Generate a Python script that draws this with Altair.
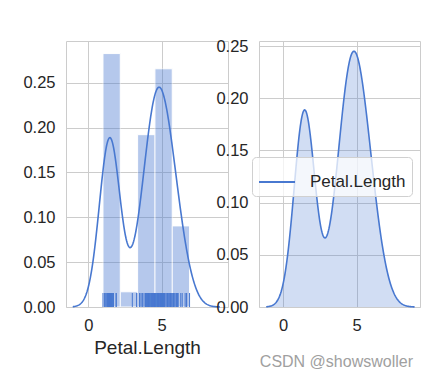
import altair as alt
import numpy as np
import pandas as pd

# ---- data: iris Petal.Length ----
setosa = [1.4, 1.4, 1.3, 1.5, 1.4, 1.7, 1.4, 1.5, 1.4, 1.5, 1.5, 1.6, 1.4, 1.1, 1.2, 1.5, 1.3, 1.4, 1.7, 1.5,
          1.7, 1.5, 1.0, 1.7, 1.9, 1.6, 1.6, 1.5, 1.4, 1.6, 1.6, 1.5, 1.5, 1.4, 1.5, 1.2, 1.3, 1.4, 1.3, 1.5,
          1.3, 1.3, 1.3, 1.6, 1.9, 1.4, 1.6, 1.4, 1.5, 1.4]
versicolor = [4.7, 4.5, 4.9, 4.0, 4.6, 4.5, 4.7, 3.3, 4.6, 3.9, 3.5, 4.2, 4.0, 4.7, 3.6, 4.4, 4.5, 4.1, 4.5, 3.9,
              4.8, 4.0, 4.9, 4.7, 4.3, 4.4, 4.8, 5.0, 4.5, 3.5, 3.8, 3.7, 3.9, 5.1, 4.5, 4.5, 4.7, 4.4, 4.1, 4.0,
              4.4, 4.6, 4.0, 3.3, 4.2, 4.2, 4.2, 4.3, 3.0, 4.1]
virginica = [6.0, 5.1, 5.9, 5.6, 5.8, 6.6, 4.5, 6.3, 5.8, 6.1, 5.1, 5.3, 5.5, 5.0, 5.1, 5.3, 5.5, 6.7, 6.9, 5.0,
             5.7, 4.9, 6.7, 4.9, 5.7, 6.0, 4.8, 4.9, 5.6, 5.8, 6.1, 6.4, 5.6, 5.1, 5.6, 6.1, 5.6, 5.5, 4.8, 5.4,
             5.6, 5.1, 5.1, 5.9, 5.7, 5.2, 5.0, 5.2, 5.4, 5.1]
petal_length = setosa + versicolor + virginica

x_ticks = [0, 5]
y_ticks = [0.0, 0.05, 0.10, 0.15, 0.20, 0.25]
series_name = "Petal.Length"
watermark = "CSDN @showswoller"
n_bins = 5

# ---- derived tables ----
arr = np.array(petal_length)
counts, edges = np.histogram(arr, bins=n_bins)
bw_width = edges[1] - edges[0]
hist_df = pd.DataFrame({
    "start": edges[:-1],
    "end": edges[1:],
    "density": counts / (len(arr) * bw_width),
})
raw_df = pd.DataFrame({"petal_length": petal_length})

q1, q3 = np.percentile(arr, [25, 75])
A = min(arr.std(ddof=1), (q3 - q1) / 1.349)
kde_bw = float(1.059 * A * len(arr) ** (-0.2))

BLUE = "#4878d0"
FONT = "Liberation Sans"
TXT = "#262626"
W, H = 162, 266
SPACING = 31

# ---- left panel: distplot (hist + kde + rug) ----
xs_left = alt.Scale(domain=[-1.52, 9.52], nice=False, zero=False)
ys_left = alt.Scale(domain=[0, 0.2965], nice=False)

x_axis_left = alt.Axis(values=x_ticks, format="d", title="Petal.Length", grid=True,
                       ticks=False, domain=False, labelPadding=10, titlePadding=5)
y_axis = alt.Axis(values=y_ticks, format=".2f", title=None, grid=True,
                  ticks=False, domain=False, labelPadding=11)

bars = alt.Chart(hist_df).mark_bar(color=BLUE, opacity=0.4, stroke="white", strokeWidth=1).encode(
    x=alt.X("start:Q", scale=xs_left, axis=x_axis_left),
    x2="end:Q",
    y=alt.Y("density:Q", scale=ys_left, axis=y_axis),
    y2=alt.datum(0),
)

rug = alt.Chart(raw_df).mark_rule(color=BLUE, strokeWidth=1).encode(
    x=alt.X("petal_length:Q", scale=xs_left),
    y=alt.value(H),
    y2=alt.value(H - 14),
)

kde_left = alt.Chart(raw_df).transform_density(
    "petal_length", as_=["value", "density"], bandwidth=kde_bw,
    extent=[-1.06, 8.96], steps=300
).mark_line(color=BLUE, strokeWidth=1.6).encode(
    x=alt.X("value:Q", scale=xs_left),
    y=alt.Y("density:Q", scale=ys_left),
)

left = alt.layer(bars, rug, kde_left).properties(width=W, height=H)

# ---- right panel: kdeplot shaded with legend ----
W2 = 161
xs_right = alt.Scale(domain=[-1.64, 9.32], nice=False, zero=False)
ys_right = alt.Scale(domain=[0, 0.2548], nice=False)
x_axis_right = alt.Axis(values=x_ticks, format="d", title=None, grid=True,
                        ticks=False, domain=False, labelPadding=10)

dens_right = alt.Chart(raw_df).transform_density(
    "petal_length", as_=["value", "density"], bandwidth=kde_bw,
    extent=[-1.15, 8.95], steps=300
).transform_calculate(series=f"'{series_name}'")

area = dens_right.mark_area(color=BLUE, opacity=0.25).encode(
    x=alt.X("value:Q", scale=xs_right, axis=x_axis_right),
    y=alt.Y("density:Q", scale=ys_right, axis=y_axis),
)

line = dens_right.mark_line(strokeWidth=1.6).encode(
    x=alt.X("value:Q", scale=xs_right),
    y=alt.Y("density:Q", scale=ys_right),
    color=alt.Color("series:N", scale=alt.Scale(range=[BLUE]), legend=alt.Legend(
        orient="none", legendX=W + SPACING - 7, legendY=116, title=None,
        symbolType="stroke", symbolSize=1296, symbolStrokeWidth=2,
        labelFont=FONT, labelFontSize=17, labelColor=TXT, labelOffset=14,
        padding=6, fillColor="rgba(255,255,255,0.75)", strokeColor="#d0d0d0",
        cornerRadius=4,
    )),
)

wm = alt.Chart(pd.DataFrame({"t": [watermark]})).mark_text(
    align="right", baseline="middle", fontSize=16, font=FONT, color="#a0a0a0"
).encode(x=alt.value(154), y=alt.value(321), text="t:N")

right = alt.layer(area, line, wm).properties(width=W2, height=H)

chart = alt.hconcat(left, right, spacing=SPACING, bounds="flush").configure_view(
    stroke="#cccccc", strokeWidth=1
).configure_axis(
    gridColor="#cccccc", gridWidth=1,
    labelFont=FONT, labelFontSize=16.5, labelColor=TXT,
    titleFont=FONT, titleFontSize=19, titleFontWeight="normal", titleColor=TXT,
).properties(
    padding={"left": 22, "top": 37, "right": 5, "bottom": 5},
    background="white",
)

chart.save("out.html", embed_options={"renderer": "svg", "actions": False})
